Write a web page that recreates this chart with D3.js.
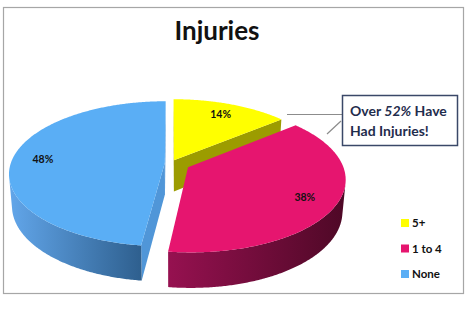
<!DOCTYPE html>
<html>
<head>
<meta charset="utf-8">
<script src="https://cdnjs.cloudflare.com/ajax/libs/d3/7.8.5/d3.min.js"></script>
<style>
  body { margin: 0; background: #fff; }
  text { font-family: Lato, "Open Sans", sans-serif; }
</style>
</head>
<body>
<div id="chart"></div>
<script>
const width = 470,
      height = 320;

// data
const categories = ["5+", "1 to 4", "None"];
const values = [14, 38, 48];
const labels = ["14%", "38%", "48%"];

// styles
const topColors = ["#ffff00", "#e6156f", "#5aaef5"];
const sideLight = ["#a6a600", "#961150", "#62a6ea"];
const sideDark = ["#8c8c00", "#4e0826", "#2e5f8e"];
const wallColors = ["#9c9c00", "#7a0c3c", "#5096d8"];
const explode = [0.045, 0.125, 0.04];

const svg = d3.select("#chart")
  .append("svg")
    .attr("width", width)
    .attr("height", height);

// frame
svg.append("rect")
    .attr("x", 3.5).attr("y", 7.5)
    .attr("width", 460).attr("height", 286)
    .attr("fill", "#fff")
    .attr("stroke", "#a6a6a6")
    .attr("stroke-width", 1.2);

svg.append("text")
    .attr("x", 217).attr("y", 40)
    .attr("text-anchor", "middle")
    .style("font-size", "26px")
    .style("font-weight", "bold")
    .attr("fill", "#111")
    .text("Injuries");

// simple perspective projection of a tilted disc
const cx = 171, cy = 163, R = 154, D = 5.9,
      tilt = 27.4 * Math.PI / 180, thick = 0.235;
const F = R * D, cosT = Math.cos(tilt), sinT = Math.sin(tilt);
const cam = {x: 0, y: D * sinT, z: -D * cosT};

function proj(p) {
  const w = D + p.z * cosT - p.y * sinT;
  const v = p.z * sinT + p.y * cosT;
  return [cx + F * p.x / w, cy - F * v / w];
}

function visible(p, n) {
  return (cam.x - p.x) * n.x + (cam.y - p.y) * n.y + (cam.z - p.z) * n.z > 0;
}

const pie = d3.pie().sort(null).value(d => d)(values);
const line = d3.line();

const defs = svg.append("defs");
sideLight.forEach((c, i) => {
  const gr = defs.append("linearGradient")
      .attr("id", "side" + i)
      .attr("x1", 0).attr("x2", 1).attr("y1", 0).attr("y2", 0);
  gr.append("stop").attr("offset", 0).attr("stop-color", c);
  gr.append("stop").attr("offset", 1).attr("stop-color", sideDark[i]);
});

const slices = pie.map((d, i) => {
  const m = (d.startAngle + d.endAngle) / 2;
  const e = explode[i];
  return {d, i, m, ox: e * Math.sin(m), oz: e * Math.cos(m)};
});

const g = svg.append("g");

slices.slice().sort((a, b) => b.oz - a.oz).forEach(s => {
  const {d, i, ox, oz} = s;
  const pt = (a, r, y) => ({x: ox + r * Math.sin(a), y: y, z: oz + r * Math.cos(a)});
  const a0 = d.startAngle, a1 = d.endAngle;
  const n = Math.ceil((a1 - a0) / (Math.PI / 360));
  const angles = d3.range(n + 1).map(k => a0 + (a1 - a0) * k / n);
  const sg = g.append("g");

  // radial walls
  const walls = [
    {a: a0, nrm: {x: -Math.cos(a0), y: 0, z: Math.sin(a0)}},
    {a: a1, nrm: {x: Math.cos(a1), y: 0, z: -Math.sin(a1)}}
  ];
  walls.forEach(w => {
    if (!visible(pt(0, 0, -thick / 2), w.nrm)) return;
    const quad = [pt(0, 0, 0), pt(w.a, 1, 0), pt(w.a, 1, -thick), pt(0, 0, -thick)].map(proj);
    sg.append("path")
        .attr("d", line(quad) + "Z")
        .attr("fill", wallColors[i]);
  });

  // outer wall, front facing part only
  const vis = angles.filter(a => visible(pt(a, 1, -thick / 2), {x: Math.sin(a), y: 0, z: Math.cos(a)}));
  if (vis.length > 1) {
    const ring = vis.map(a => proj(pt(a, 1, 0)))
      .concat(vis.slice().reverse().map(a => proj(pt(a, 1, -thick))));
    sg.append("path")
        .attr("d", line(ring) + "Z")
        .attr("fill", `url(#side${i})`);
  }

  // top face
  const top = [proj(pt(0, 0, 0))].concat(angles.map(a => proj(pt(a, 1, 0))));
  sg.append("path")
      .attr("d", line(top) + "Z")
      .attr("fill", topColors[i]);
});

// data labels
slices.forEach(s => {
  const p = proj({x: s.ox + 0.8 * Math.sin(s.m), y: 0, z: s.oz + 0.8 * Math.cos(s.m)});
  svg.append("text")
      .attr("x", p[0]).attr("y", p[1])
      .attr("dy", "0.35em")
      .attr("text-anchor", "middle")
      .style("font-size", "10.5px")
      .style("font-weight", "bold")
      .attr("fill", "#111")
      .text(labels[s.i]);
});

// callout
svg.append("path")
    .attr("d", "M287,114.5H342M341,121L327,134")
    .attr("fill", "none")
    .attr("stroke", "#8c8c8c")
    .attr("stroke-width", 1.2);

svg.append("rect")
    .attr("x", 342.5).attr("y", 95.5)
    .attr("width", 115).attr("height", 50)
    .attr("fill", "#fff")
    .attr("stroke", "#3a4868")
    .attr("stroke-width", 1.5);

const note = svg.append("text")
    .attr("fill", "#1f2d4d")
    .style("font-size", "14px")
    .style("font-weight", "bold");
note.append("tspan").attr("x", 350).attr("y", 116).text("Over ");
note.append("tspan").style("font-style", "italic").text("52%");
note.append("tspan").text(" Have");
note.append("tspan").attr("x", 350).attr("y", 136).text("Had Injuries!");

// legend
const legend = svg.append("g")
    .attr("transform", "translate(401, 223)");

const item = legend.selectAll("g")
  .data(categories)
  .enter()
  .append("g")
    .attr("transform", (d, i) => `translate(0, ${i * 25.5})`);

item.append("rect")
    .attr("x", 0).attr("y", -4)
    .attr("width", 8).attr("height", 8)
    .attr("fill", (d, i) => topColors[i]);

item.append("text")
    .attr("x", 11)
    .attr("dy", "0.36em")
    .style("font-size", "11.5px")
    .style("font-weight", "bold")
    .attr("fill", "#111")
    .text(d => d);
</script>
</body>
</html>
